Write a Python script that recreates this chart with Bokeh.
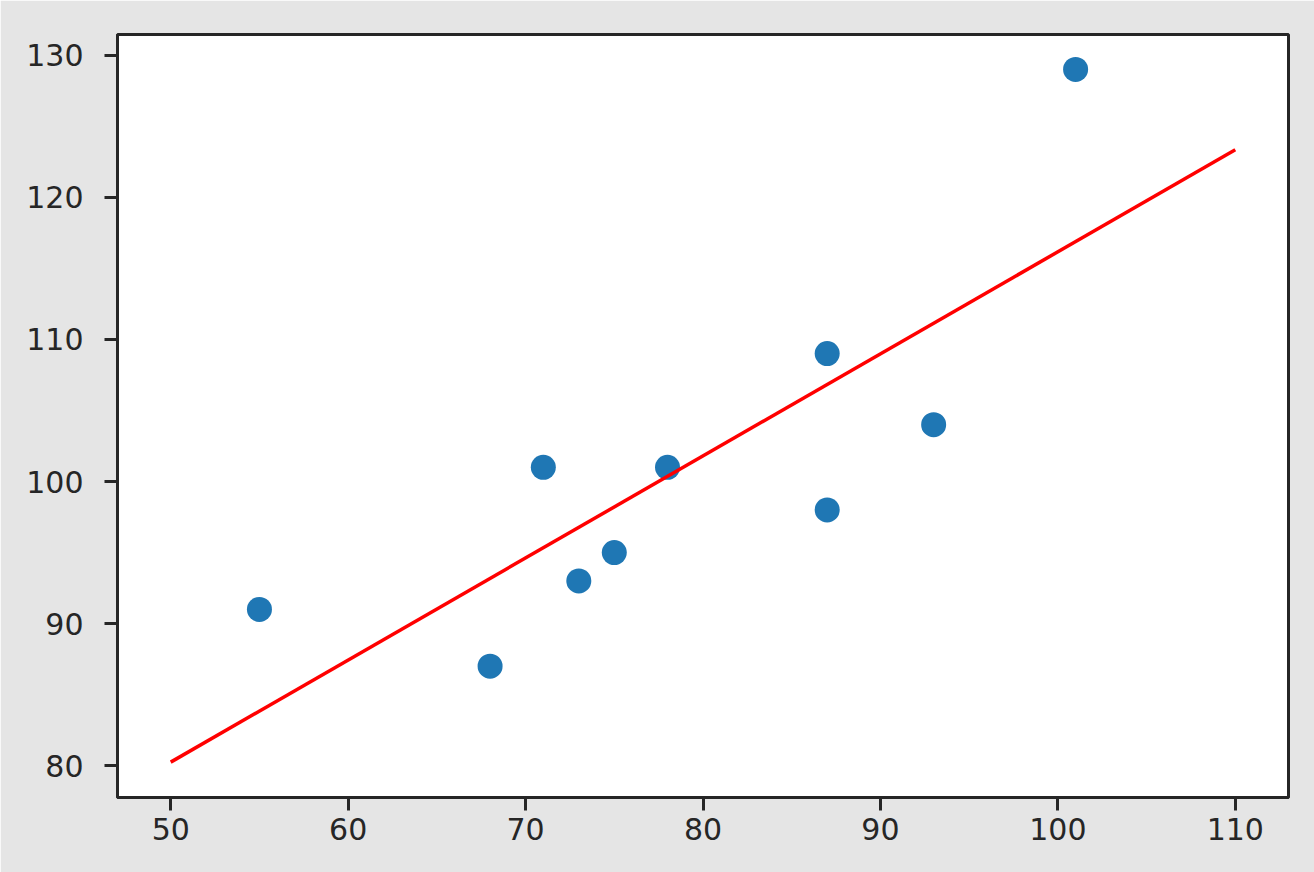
from bokeh.plotting import figure
from bokeh.models import Range1d, FixedTicker
from bokeh.embed import file_html
from bokeh.resources import INLINE

# Data
x_points = [55, 68, 71, 73, 75, 78, 87, 87, 93, 101]
y_points = [91, 87, 101, 93, 95, 101, 109, 98, 104, 129]
fit_x = [50, 110]
fit_y = [80.25, 123.35]
x_ticks = [50, 60, 70, 80, 90, 100, 110]
y_ticks = [80, 90, 100, 110, 120, 130]

p = figure(width=1314, height=872, output_backend="svg", toolbar_location=None,
           x_range=Range1d(47.0, 113.0), y_range=Range1d(77.76, 131.46),
           min_border_left=117, min_border_top=34, min_border_right=26, min_border_bottom=75)

p.border_fill_color = "#e5e5e5"
p.background_fill_color = "white"
p.outline_line_color = "#262626"
p.outline_line_width = 3
p.grid.visible = False

p.scatter(x_points, y_points, size=25, color="#1f77b4", line_color=None)
p.line(fit_x, fit_y, line_color="#ff0000", line_width=3.5)

for ax, ticks, standoff in ((p.xaxis[0], x_ticks, 7), (p.yaxis[0], y_ticks, 21)):
    ax.ticker = FixedTicker(ticks=ticks)
    ax.axis_line_color = "#262626"
    ax.axis_line_width = 3
    ax.major_tick_line_color = "#262626"
    ax.major_tick_line_width = 3
    ax.major_tick_out = 13
    ax.major_tick_in = 0
    ax.minor_tick_line_color = None
    ax.major_label_text_font = "DejaVu Sans"
    ax.major_label_text_font_size = "30px"
    ax.major_label_text_color = "#262626"
    ax.major_label_standoff = standoff

open("out.html", "w").write(file_html(p, INLINE))
